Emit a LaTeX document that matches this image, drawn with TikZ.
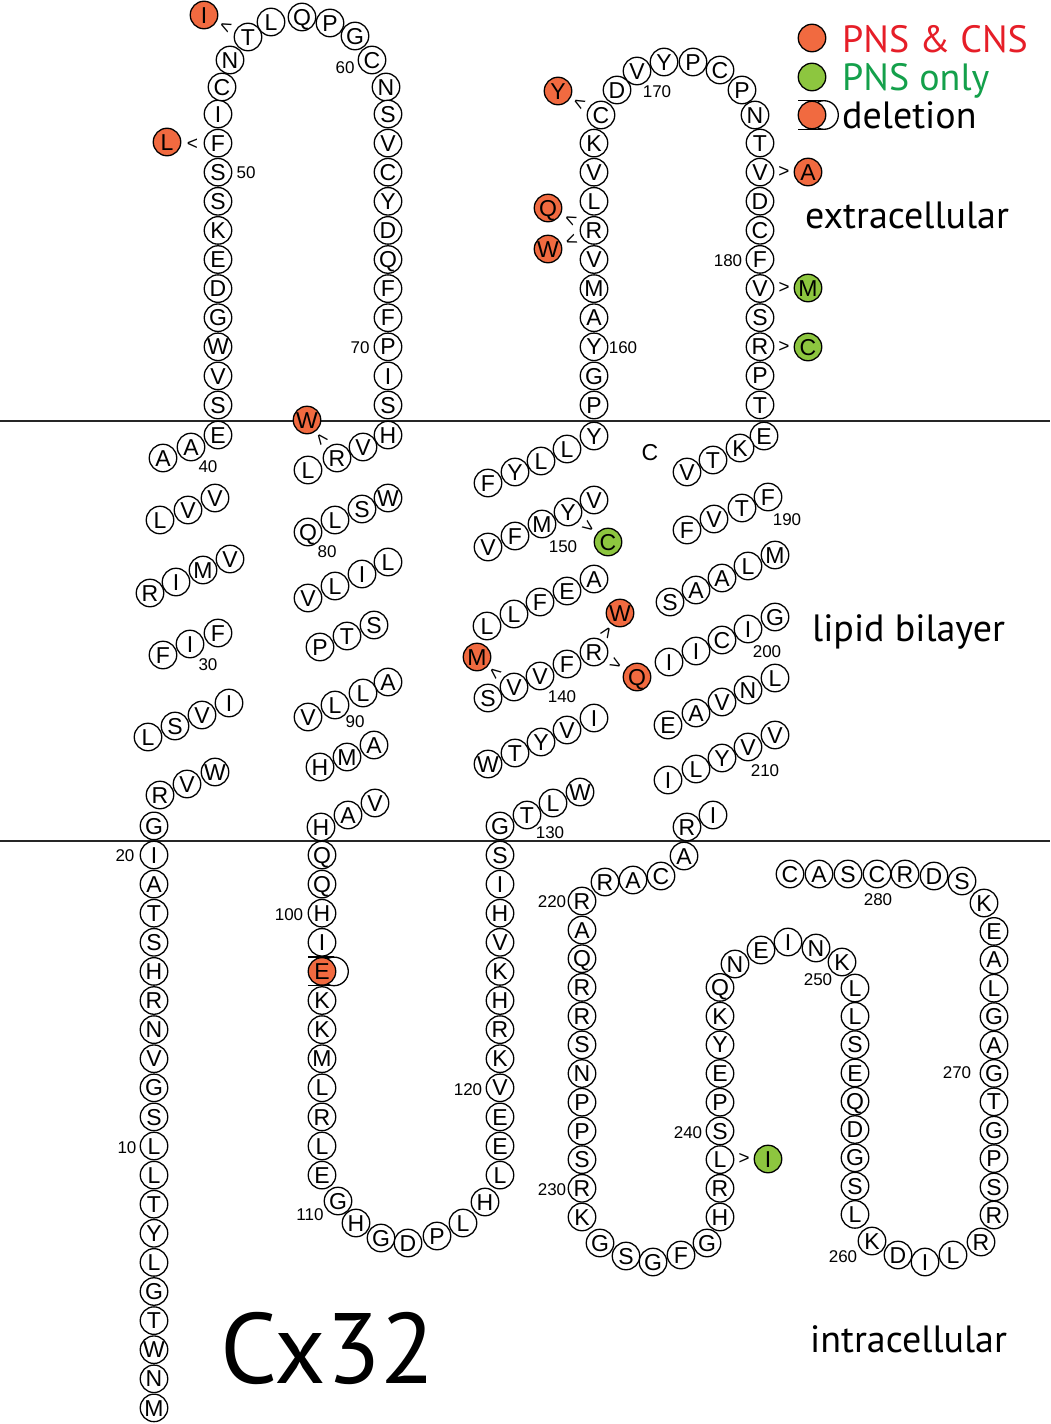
\documentclass[tikz,border=0pt]{standalone}
\usepackage{fontspec}
\setmainfont{Liberation Sans}
\newfontfamily\labfont{PT Sans}
\usetikzlibrary{calc}
\pgfdeclarelayer{background}
\pgfsetlayers{background,main}
\definecolor{mutor}{RGB}{241,106,64}
\definecolor{mutgr}{RGB}{141,198,63}
\definecolor{txtred}{RGB}{230,30,40}
\definecolor{txtgreen}{RGB}{20,160,75}
\begin{document}
\begin{tikzpicture}[x=1pt,y=-1pt,
  res/.style={circle,draw,fill=white,line width=1.3pt,minimum size=27.5pt,inner sep=0pt,
    text height=16.3pt,text depth=0pt,font=\fontsize{23}{23}\selectfont},
  mo/.style={res,fill=mutor},
  mg/.style={res,fill=mutgr},
  num/.style={inner sep=0pt,font=\fontsize{17}{17}\selectfont},
  chev/.style={sloped,allow upside down,inner sep=0pt,font=\fontsize{19}{19}\selectfont},
  big/.style={inner sep=0pt,font=\labfont\fontsize{38}{38}\selectfont},
  memb/.style={line width=1.3pt,black!85},
  delline/.style={line width=1.3pt}]
\useasboundingbox (0,0) rectangle (1050,1424);
\begin{pgfonlayer}{background}
\fill[white] (0,0) rectangle (1050,1424);
\coordinate (m1a) at (0,421); \coordinate (m1b) at (1050,421);
\coordinate (m2a) at (0,841); \coordinate (m2b) at (1050,841);
\draw[memb] (m1a) -- (m1b);
\draw[memb] (m2a) -- (m2b);
\end{pgfonlayer}

% ---- N-terminus column
\foreach \a [count=\i] in {M,N,W,T,G,L,Y,T,L,L,S,G,V,N,R,H,S,T,A,I,G}
  \node[res] (r\i) at (154,{855+(20-\i)*29.1}) {\a};
% ---- TM1
\foreach \n/\x/\y/\a in {22/160/795/R,23/187/784/V,24/215/772/W,
  25/148/737/L,26/175/726/S,27/202/715/V,28/229/703/I,
  29/163/655/F,30/190/644/I,31/218/633/F,
  32/150/593/R,33/176/582/I,34/203/570/M,35/230/559/V,
  36/160/520/L,37/188/510/V,38/215/498/V,
  39/163/458/A,40/191/447/A,41/218/435/E}
  \node[res] (r\n) at (\x,\y) {\a};
% ---- EL1
\foreach \a [count=\i from 42] in {S,V,W,G,D,E,K,S,S,F,I}
  \node[res] (r\i) at (218,{405-(\i-42)*29.1}) {\a};
\foreach \n/\x/\y/\a in {53/222/87/C,54/230/60/N,55/248/37/T,56/271/22/L,57/302/17/Q,
  58/330/23/P,59/355/36/G,60/372/60/C,61/386/87/N}
  \node[res] (r\n) at (\x,\y) {\a};
\foreach \a [count=\i from 62] in {S,V,C,Y,D,Q,F,F,P,I,S}
  \node[res] (r\i) at (388,{114+(\i-62)*29.1}) {\a};
% ---- TM2
\foreach \n/\x/\y/\a in {73/388/435/H,74/363/447/V,75/337/458/R,76/308/470/L,
  77/388/498/W,78/362/509/S,79/335/520/L,80/308/532/Q,
  81/388/562/L,82/362/574/I,83/335/586/L,84/308/598/V,
  85/374/625/S,86/347/636/T,87/320/647/P,
  88/388/682/A,89/363/693/L,90/335/705/L,91/308/717/V,
  92/374/745/A,93/347/757/M,94/320/767/H,
  95/375/803/V,96/348/815/A,97/321/827/H}
  \node[res] (r\n) at (\x,\y) {\a};
% ---- IL1
\foreach \a [count=\i from 98] in {Q,Q,H,I}
  \node[res] (r\i) at (322,{855+(\i-98)*29.1}) {\a};
\node[mo] (r102) at (322,971.4) {E};
\foreach \a [count=\i from 103] in {K,K,M,L,R,L,E}
  \node[res] (r\i) at (322,{855+(\i-98)*29.1}) {\a};
\foreach \n/\x/\y/\a in {110/338/1201/G,111/356/1223/H,112/381/1238/G,113/408/1243/D,
  114/437/1236/P,115/463/1223/L,116/485/1202/H}
  \node[res] (r\n) at (\x,\y) {\a};
\foreach \a [count=\i from 117] in {L,E,E,V,K,R,H,K,V,H,I,S}
  \node[res] (r\i) at (500,{855+(128-\i)*29.1}) {\a};
% ---- TM3
\foreach \n/\x/\y/\a in {129/500/826/G,130/527/815/T,131/553/803/L,132/580/792/W,
  133/488/764/W,134/515/753/T,135/541/742/Y,136/567/730/V,137/594/718/I,
  138/488/698/S,139/514/687/V,140/540/676/V,141/567/664/F,142/594/652/R,
  143/487/626/L,144/514/614/L,145/540/602/F,146/567/591/E,147/594/579/A,
  148/488/547/V,149/515/536/F,150/542/524/M,151/568/512/Y,152/594/500/V,
  153/488/483/F,154/515/472/Y,155/541/461/L,156/567/449/L,157/594/436/Y}
  \node[res] (r\n) at (\x,\y) {\a};
% ---- EL2
\foreach \a [count=\i from 158] in {P,G,Y,A,M,V,R,L,V,K}
  \node[res] (r\i) at (594,{405-(\i-158)*29.1}) {\a};
\foreach \n/\x/\y/\a in {168/601/115/C,169/617/90/D,170/637/71/V,171/664/62/Y,
  172/693/62/P,173/720/70/C,174/742/90/P,175/755/115/N}
  \node[res] (r\n) at (\x,\y) {\a};
\foreach \a [count=\i from 176] in {T,V,D,C,F,V,S,R,P,T}
  \node[res] (r\i) at (760,{143+(\i-176)*29.1}) {\a};
% ---- TM4
\foreach \n/\x/\y/\a in {186/764/436/E,187/740/448/K,188/713/460/T,189/687/472/V,
  190/768/497/F,191/742/508/T,192/714/519/V,193/687/530/F,
  194/775/555/M,195/748/566/L,196/722/578/A,197/696/590/A,198/670/602/S,
  199/775/617/G,200/748/629/I,201/722/640/C,202/696/651/I,203/669/662/I,
  204/775/678/L,205/748/690/N,206/722/702/V,207/696/713/A,208/668/725/E,
  209/775/735/V,210/748/747/V,211/722/758/Y,212/696/769/L,213/668/780/I,
  214/713/815/I,215/687/827/R,
  216/684/856/A,217/661/876/C,218/633/880/A,219/605/882/R,220/582/901/R}
  \node[res] (r\n) at (\x,\y) {\a};
% ---- C-terminus
\foreach \a [count=\i from 221] in {A,Q,R,R,S,N,P,P,S,R,K}
  \node[res] (r\i) at (582,{930+(\i-221)*28.7}) {\a};
\foreach \n/\x/\y/\a in {232/600/1243/G,233/626/1256/S,234/653/1262/G,235/681/1255/F,236/707/1243/G}
  \node[res] (r\n) at (\x,\y) {\a};
\foreach \a [count=\i from 237] in {H,R,L,S,P,E,Y,K,Q}
  \node[res] (r\i) at (720,{1217-(\i-237)*28.7}) {\a};
\foreach \n/\x/\y/\a in {246/735/964/N,247/761/950/E,248/788/942/I,249/816/948/N,250/842/962/K}
  \node[res] (r\n) at (\x,\y) {\a};
\foreach \a [count=\i from 251] in {L,L,S,E,Q,D,G,S,L}
  \node[res] (r\i) at (855,{988+(\i-251)*28.3}) {\a};
\foreach \n/\x/\y/\a in {260/872/1241/K,261/898/1255/D,262/925/1262/I,263/953/1255/L,
  264/981/1242/R,265/994/1215/R}
  \node[res] (r\n) at (\x,\y) {\a};
\foreach \a [count=\i from 266] in {S,P,G,T,G,A,G,L,A,E}
  \node[res] (r\i) at (994,{1187-(\i-266)*28.4}) {\a};
\foreach \n/\x/\y/\a in {276/984/903/K,277/962/881/S,278/934/876/D,279/905/874/R,
  280/877/874/C,281/848/874/S,282/819/874/A,283/790/874/C}
  \node[res] (r\n) at (\x,\y) {\a};

% ---- mutations
\node[mo] (mI55) at (204,15) {I};
\node[mo] (mL51) at (167,142) {L};
\node[mo] (mW75) at (307,420) {W};
\node[mo] (mY168) at (558,91) {Y};
\node[mo] (mQ164) at (548,208) {Q};
\node[mo] (mW164) at (548,249) {W};
\node[mo] (mA177) at (808,172) {A};
\node[mg] (mM181) at (808,288) {M};
\node[mg] (mC183) at (808,347) {C};
\node[mg] (mC151) at (608,542) {C};
\node[mo] (mM139) at (477,657) {M};
\node[mo] (mW142) at (620,613) {W};
\node[mo] (mQ142) at (637,677) {Q};
\node[mg] (mI239) at (768,1159) {I};
\foreach \a/\b in {r55/mI55,r51/mL51,r75/mW75,r168/mY168,r164/mQ164,r164/mW164,
  r177/mA177,r181/mM181,r183/mC183,r151/mC151,r139/mM139,r142/mW142,r142/mQ142,r239/mI239}
  \path[allow upside down] (\a) -- node[chev] {>} (\b);

% ---- deletion marks
\node[mo] (legdel) at (812,115) {};
\begin{pgfonlayer}{background}
\foreach \d in {r102,legdel}{
  \draw[delline] ($(\d)+(12,0)$) circle[radius=14.3pt];
  \draw[delline] ($(\d)+(-14,-14.3)$) -- ($(\d)+(12,-14.3)$);
  \draw[delline] ($(\d)+(-14,14.3)$) -- ($(\d)+(12,14.3)$);
}
\end{pgfonlayer}

% ---- position numbers
\foreach \t/\x/\y in {10/127/1148,20/125/856,30/208/665,40/208/467,50/246/173,60/345/68,
  70/360/348,80/327/552,90/355/722,100/289/915,110/310/1215,120/468/1090,130/550/833,
  140/562/697,150/563/547,160/623/348,170/657/92,180/728/261,190/787/520,200/767/652,
  210/765/771,220/552/902,230/552/1190,240/688/1133,250/818/980,260/843/1257,
  270/957/1073,280/878/900}
  \node[num] (n\t) at (\x,\y) {\t};
\node[inner sep=0pt,font=\fontsize{23}{23}\selectfont] (cmark) at (650,453) {C};

% ---- legend
\node[mo] (legpc) at (812,38) {};
\node[mg] (legp) at (812,77) {};
\node[big,anchor=base west,text=txtred] (legt1) at (842,52) {PNS \& CNS};
\node[big,anchor=base west,text=txtgreen] (legt2) at (842,90) {PNS only};
\node[big,anchor=base west] (legt3) at (842,128) {deletion};

% ---- region labels
\node[big,anchor=base west] (ext) at (805,228) {extracellular};
\node[big,anchor=base west] (lip) at (812,641) {lipid bilayer};
\node[big,anchor=base west] (intr) at (810,1352) {intracellular};
\node[inner sep=0pt,anchor=base west,font=\labfont\fontsize{100}{100}\selectfont] (cx) at (220,1383) {Cx32};
\end{tikzpicture}
\end{document}
